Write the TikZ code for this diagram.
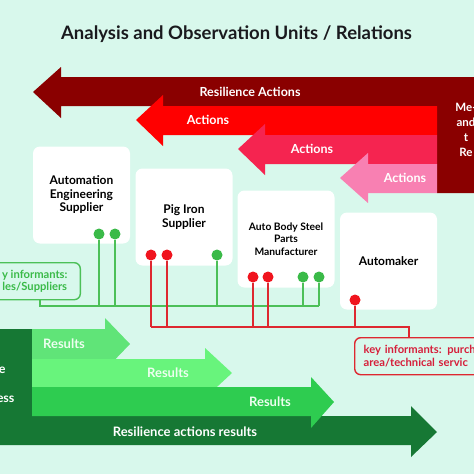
\documentclass[tikz,border=0pt]{standalone}
\usepackage{fontspec}
\setmainfont{Lato}
\definecolor{mintBg}{RGB}{216,248,236}
\definecolor{darkRed}{RGB}{138,0,0}
\definecolor{brightRed}{RGB}{255,0,0}
\definecolor{crimsonRed}{RGB}{245,36,80}
\definecolor{pinkRed}{RGB}{248,128,178}
\definecolor{darkGreen}{RGB}{22,120,52}
\definecolor{midGreen}{RGB}{46,204,80}
\definecolor{lightGreen}{RGB}{104,244,124}
\definecolor{paleGreen}{RGB}{96,228,120}
\definecolor{dotGreen}{RGB}{58,186,72}
\definecolor{dotRed}{RGB}{240,20,30}
\definecolor{lineGreen}{RGB}{76,192,88}
\definecolor{lineRed}{RGB}{222,40,48}
\definecolor{textRed}{RGB}{214,30,58}
\definecolor{titleInk}{RGB}{26,26,30}

\begin{document}
\begin{tikzpicture}[
  x=1pt, y=-1pt,
  unitbox/.style={rectangle, fill=white, rounded corners=7pt, align=center, minimum width=97pt, minimum height=97pt, font=\fontsize{12}{13.5}\selectfont\bfseries, text=black},
  banner/.style={text=white, font=\fontsize{12.5}{14}\selectfont\bfseries},
  resultlabel/.style={text=white!88!lightGreen, font=\fontsize{13}{14}\selectfont\bfseries},
  gdot/.style={circle, fill=dotGreen, inner sep=0pt, minimum size=11pt},
  rdot/.style={circle, fill=dotRed, inner sep=0pt, minimum size=11pt},
  gline/.style={draw=lineGreen, line width=1.4pt},
  rline/.style={draw=lineRed, line width=1.4pt},
  keybox/.style={rectangle, rounded corners=6pt, line width=1.4pt, fill=mintBg, minimum height=37pt, inner sep=3pt, font=\fontsize{11.2}{12.5}\selectfont\bfseries}
]
  \useasboundingbox (0,0) rectangle (474,474);
  \clip (0,0) rectangle (474,474);
  \fill[mintBg] (0,0) rectangle (474,474);

  % Title
  \node[text=titleInk, font=\fontsize{18.5}{20}\selectfont\bfseries] (title) at (236.5,34) {Analysis and Observation Units / Relations};

  % Action arrows (right to left)
  \fill[darkRed] (33,92) -- (61,67) -- (61,77) -- (474,77) -- (474,193) -- (437,193) -- (437,106) -- (61,106) -- (61,118) -- cycle;
  \fill[brightRed] (136,120) -- (163,95) -- (163,106) -- (437,106) -- (437,135) -- (163,135) -- (163,146) -- cycle;
  \fill[crimsonRed] (238,149) -- (265,124) -- (265,135) -- (437,135) -- (437,164) -- (265,164) -- (265,175) -- cycle;
  \fill[pinkRed] (340,178) -- (368,153) -- (368,164) -- (437,164) -- (437,193) -- (368,193) -- (368,203) -- cycle;

  \node[banner] (resact) at (250,92) {Resilience Actions};
  \node[banner] (act1) at (208,120) {Actions};
  \node[banner] (act2) at (312,149) {Actions};
  \node[banner] (act3) at (405,178) {Actions};
  \node[banner, align=center, font=\fontsize{11.5}{15}\selectfont\bfseries] (measures) at (466,129.5) {Me-\\and\\t\\Re};

  % Result arrows (left to right)
  \fill[darkGreen] (0,329) -- (32,329) -- (32,416) -- (411,416) -- (411,406) -- (437,432) -- (411,457) -- (411,445) -- (0,445) -- cycle;
  \fill[paleGreen] (32,329) -- (105,329) -- (105,318) -- (130,344) -- (105,370) -- (105,359) -- (32,359) -- cycle;
  \fill[lightGreen] (32,359) -- (205,359) -- (205,348) -- (232,373) -- (205,398) -- (205,387) -- (32,387) -- cycle;
  \fill[midGreen] (32,387) -- (311,387) -- (311,377) -- (334,402) -- (311,428) -- (311,416) -- (32,416) -- cycle;

  \node[resultlabel] (res1) at (64,344) {Results};
  \node[resultlabel] (res2) at (168,373) {Results};
  \node[resultlabel] (res3) at (270,402) {Results};
  \node[banner, font=\fontsize{13}{14}\selectfont\bfseries] (resres) at (185,432) {Resilience actions results};
  \node[banner, anchor=east] (resil) at (9,370) {e};
  \node[banner, anchor=east] (effect) at (18,399) {ess};

  % Observation units
  \node[unitbox] (automation) at (81.5,195) {Automation\\Engineering\\Supplier};
  \node[unitbox] (pigiron) at (184,217) {Pig Iron\\Supplier};
  \node[unitbox, font=\fontsize{10.3}{12.5}\selectfont\bfseries] (autobody) at (286,239) {Auto Body Steel\\Parts\\Manufacturer};
  \node[unitbox] (automaker) at (388.5,261) {Automaker};

  % Informant dots
  \node[gdot] (ae1) at (99,234) {};
  \node[gdot] (ae2) at (115,234) {};
  \node[rdot] (pi1) at (151,255) {};
  \node[rdot] (pi2) at (167,255) {};
  \node[gdot] (pi3) at (217,255) {};
  \node[rdot] (ab1) at (253,277) {};
  \node[rdot] (ab2) at (268,277) {};
  \node[gdot] (ab3) at (303,277) {};
  \node[gdot] (ab4) at (319,277) {};
  \node[rdot] (am1) at (355,300) {};

  % Key informant boxes
  \node[keybox, draw=lineGreen, text=dotGreen, minimum width=91pt, align=center, anchor=north east] (gkey) at (81,262) {y informants:\\les/Suppliers};
  \node[keybox, draw=lineRed, text=textRed, text width=170pt, inner xsep=9pt, align=left, anchor=north west] (rkey) at (354,337) {key informants: purcha\\area/technical servic};

  % Green bus
  \coordinate (gbusL) at (40,306);
  \coordinate (gbusR) at (319,306);
  \draw[gline] (gkey.south -| gbusL) -- (gbusL) -- (gbusR);
  \foreach \d in {ae1,ae2,pi3,ab3,ab4}
    \draw[gline] (\d) -- (\d |- gbusL);

  % Red bus
  \coordinate (rbusL) at (151,327);
  \coordinate (rbusR) at (409,327);
  \draw[rline] (rbusL) -- (rbusR) -- (rkey.north -| rbusR);
  \foreach \d in {pi1,pi2,ab1,ab2,am1}
    \draw[rline] (\d) -- (\d |- rbusL);

\end{tikzpicture}
\end{document}
